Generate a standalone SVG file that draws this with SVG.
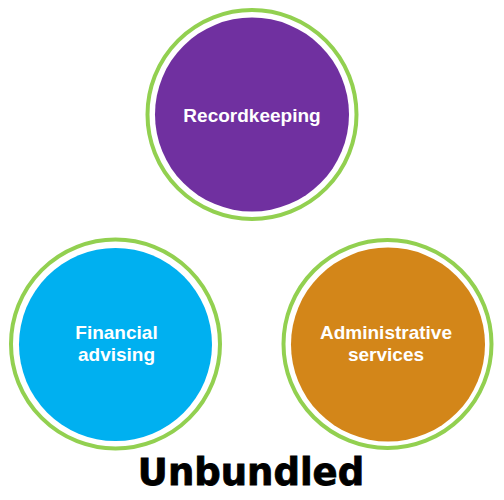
<svg xmlns="http://www.w3.org/2000/svg" width="504" height="500" viewBox="0 0 504 500">
<style>
.ring{fill:none;stroke:#92D050;stroke-width:4}
.lbl{font-family:"Liberation Sans",Arial,sans-serif;font-weight:bold;font-size:19px;fill:#fff;text-anchor:middle}
.title{font-family:"DejaVu Sans",sans-serif;font-weight:bold;font-size:37px;fill:#000;text-anchor:middle;stroke:#000;stroke-width:0.8}
</style>
<rect width="504" height="500" fill="#fff"/>
<g id="connectors"></g>
<g id="recordkeeping">
<circle class="ring" cx="252" cy="114.5" r="104.5"/>
<circle cx="252" cy="114.5" r="97" fill="#7030A0"/>
<text class="lbl" x="252" y="122">Recordkeeping</text>
</g>
<g id="financial">
<circle class="ring" cx="115.5" cy="344" r="104.5"/>
<circle cx="115.5" cy="344.5" r="96.5" fill="#00B0F0"/>
<text class="lbl" x="116.5" y="338.5">Financial</text>
<text class="lbl" x="116.5" y="361">advising</text>
</g>
<g id="administrative">
<circle class="ring" cx="387.5" cy="344" r="104"/>
<circle cx="388" cy="344.5" r="97" fill="#D38619"/>
<text class="lbl" x="386" y="338.5">Administrative</text>
<text class="lbl" x="386" y="361">services</text>
</g>
<text id="title" class="title" x="251" y="485">Unbundled</text>
</svg>
